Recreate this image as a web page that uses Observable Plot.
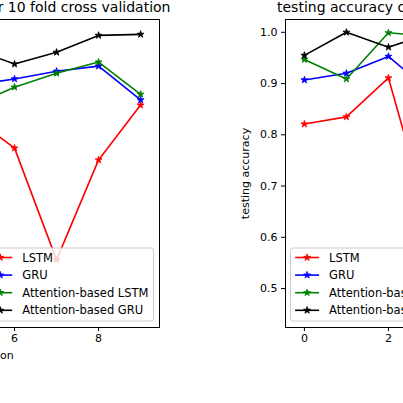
<!DOCTYPE html>
<html>
<head>
<meta charset="utf-8">
<script src="https://cdn.jsdelivr.net/npm/d3@7"></script>
<script src="https://cdn.jsdelivr.net/npm/@observablehq/plot@0.6"></script>
<style>
  html, body { margin: 0; padding: 0; background: #fff; }
  #wrap { position: relative; width: 403px; height: 403px; overflow: hidden; background: #fff; }
  #left, #right { position: absolute; top: 0; width: 496px; height: 403px; }
  #left { left: -317px; }
  #right { left: 224.5px; }
  #left svg, #right svg { max-width: none !important; display: block; }
</style>
</head>
<body>
<div id="wrap"><div id="left"></div><div id="right"></div></div>
<script>
// ---- data (only the visible part of each panel) ----
const series = ["LSTM", "GRU", "Attention-based LSTM", "Attention-based GRU"];
const colors = ["#ff0000", "#0000ff", "#008000", "#000000"];

// left panel: 10 fold cross validation (folds 5..9 visible)
const leftFolds = [5, 6, 7, 8, 9];
const leftLSTM = [0.835, 0.774, 0.556, 0.751, 0.858];
const leftGRU = [0.897, 0.909, 0.924, 0.934, 0.868];
const leftAttLSTM = [0.856, 0.893, 0.920, 0.942, 0.879];
const leftAttGRU = [0.968, 0.938, 0.961, 0.994, 0.996];

// right panel: testing accuracy (folds 0..3 visible)
const rightFolds = [0, 1, 2, 3];
const rightLSTM = [0.821, 0.835, 0.911, 0.620];
const rightGRU = [0.907, 0.920, 0.953, 0.883];
const rightAttLSTM = [0.947, 0.909, 0.999, 0.992];
const rightAttGRU = [0.955, 1.000, 0.971, 0.998];

const xTicks = [0, 2, 4, 6, 8];
const yTicks = [0.5, 0.6, 0.7, 0.8, 0.9, 1.0];

const leftTitle = "Validation accuracy for 10 fold cross validation";
const rightTitle = "testing accuracy comparison";
const xLabel = "fold of cross validation";
const yLabelRight = "testing accuracy";

function rows(folds, arrs) {
  const out = [];
  arrs.forEach((arr, k) => arr.forEach((v, i) => out.push({fold: folds[i], acc: v, model: series[k]})));
  return out;
}
const leftData = rows(leftFolds, [leftLSTM, leftGRU, leftAttLSTM, leftAttGRU]);
const rightData = rows(rightFolds, [rightLSTM, rightGRU, rightAttLSTM, rightAttGRU]);

const FONT = "DejaVu Sans";
const common = {
  width: 496, height: 403,
  marginLeft: 60, marginRight: 20, marginTop: 19, marginBottom: 76,
  style: {fontFamily: FONT, fontSize: "11px", background: "transparent", color: "#000", overflow: "visible", maxWidth: "none"},
  color: {domain: series, range: colors}
};
const yDomain = [0.424, 1.025];

function seriesMarks(data) {
  return [
    Plot.line(data, {x: "fold", y: "acc", z: "model", stroke: "model", strokeWidth: 1.6}),
    Plot.dot(data, {x: "fold", y: "acc", symbol: "star", fill: "model", stroke: "model", strokeWidth: 0.8, r: 2.2})
  ];
}

const leftPlot = Plot.plot({
  ...common,
  x: {domain: [-0.45, 9.45]},
  y: {domain: yDomain},
  marks: [
    ...seriesMarks(leftData),
    Plot.axisX({ticks: xTicks, tickSize: 4, tickPadding: 3, tickFormat: d => String(d), label: xLabel, labelAnchor: "center", labelOffset: 31, labelArrow: "none"}),
    Plot.frame({stroke: "#000", strokeWidth: 1}),
    Plot.text([leftTitle], {frameAnchor: "top-right", textAnchor: "end", dx: 11, dy: -8, fontSize: 14, lineAnchor: "bottom"})
  ]
});

const rightPlot = Plot.plot({
  ...common,
  x: {domain: [-0.45, 9.45]},
  y: {domain: yDomain},
  marks: [
    ...seriesMarks(rightData),
    Plot.axisX({ticks: xTicks, tickSize: 4, tickPadding: 3, tickFormat: d => String(d), label: xLabel, labelAnchor: "center", labelOffset: 31, labelArrow: "none"}),
    Plot.axisY({ticks: yTicks, tickSize: 4, tickPadding: 4, tickFormat: d3.format(".1f"), label: yLabelRight, labelAnchor: "center", labelOffset: 44, labelArrow: "none"}),
    Plot.frame({stroke: "#000", strokeWidth: 1}),
    Plot.text([rightTitle], {frameAnchor: "top-left", textAnchor: "start", dx: -8.5, dy: -8, fontSize: 14, lineAnchor: "bottom"})
  ]
});

document.getElementById("left").appendChild(leftPlot);
document.getElementById("right").appendChild(rightPlot);

// ---- legends (matplotlib-style box) ----
function drawLegend(svgEl, side) {
  const svg = d3.select(svgEl);
  const fx0 = common.marginLeft, fx1 = common.width - common.marginRight;
  const fy1 = common.height - common.marginBottom;
  const fs = 11.5, rowH = 17.6, pad = 5.5, handleLen = 24, gap = 10;
  const g = svg.append("g").attr("font-family", FONT).attr("font-size", fs).attr("text-anchor", "start");
  const probe = g.append("text").text("");
  let maxW = 0;
  series.forEach(s => { probe.text(s); maxW = Math.max(maxW, probe.node().getComputedTextLength()); });
  probe.remove();
  const boxW = 4.6 + handleLen + gap + maxW + 5;
  const boxH = rowH * series.length + 2.6;
  const bx = side === "right" ? fx1 - pad - boxW : fx0 + pad;
  const by = fy1 - 6 - boxH;
  g.append("rect").attr("x", bx).attr("y", by).attr("width", boxW).attr("height", boxH)
    .attr("rx", 2.5).attr("fill", "#fff").attr("fill-opacity", 0.8).attr("stroke", "#cccccc").attr("stroke-width", 1);
  const star = d3.symbol(d3.symbolStar, Math.PI * 2.2 * 2.2);
  series.forEach((s, i) => {
    const cy = by + 9.5 + i * rowH;
    const hx = bx + 4.6;
    g.append("line").attr("x1", hx).attr("x2", hx + handleLen).attr("y1", cy).attr("y2", cy)
      .attr("stroke", colors[i]).attr("stroke-width", 1.6);
    g.append("path").attr("d", star()).attr("transform", `translate(${hx + handleLen / 2},${cy})`)
      .attr("fill", colors[i]).attr("stroke", colors[i]).attr("stroke-width", 0.8);
    g.append("text").attr("x", hx + handleLen + gap).attr("y", cy).attr("dy", "0.36em").text(s);
  });
}
drawLegend(leftPlot, "right");
drawLegend(rightPlot, "left");
</script>
</body>
</html>
